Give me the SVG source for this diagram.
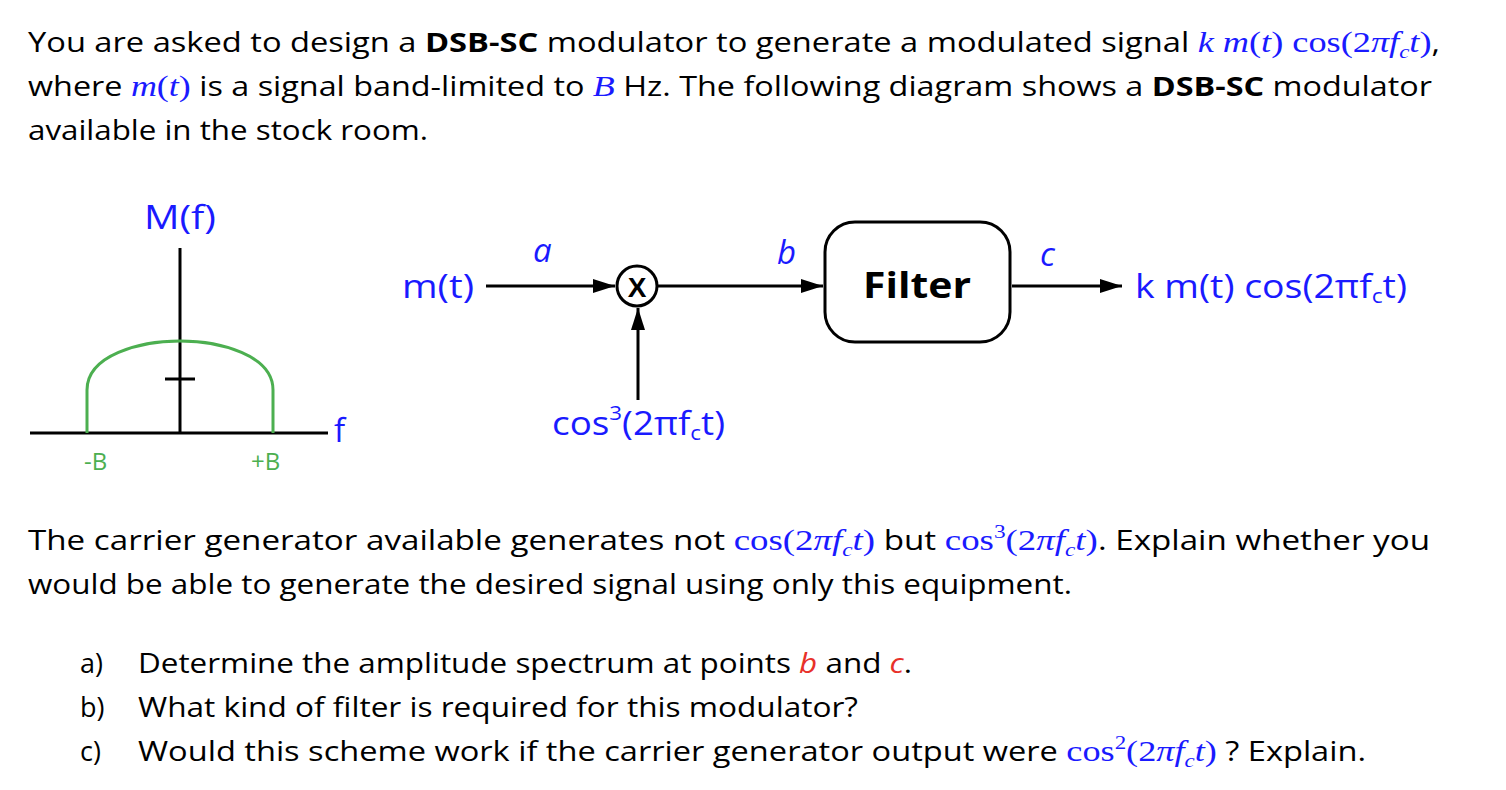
<svg xmlns="http://www.w3.org/2000/svg" width="1506" height="790" viewBox="0 0 1506 790">
<defs>
<style>
.t{font-family:"Open Sans","Liberation Sans",sans-serif;font-size:27px;fill:#000}
.m{font-family:"Liberation Serif",serif;font-size:30px;fill:#1a1aff}
.i{font-style:italic}
.s{font-size:19px}
.rd{fill:#e8312a;font-style:italic}
.lab{font-family:"Open Sans","Liberation Sans",sans-serif;font-size:33px;fill:#1a1aff}
.sl{font-size:20px}
.ln{stroke:#000;stroke-width:3;fill:none}
</style>
<marker id="a" viewBox="0 0 10 10" refX="10" refY="5" markerWidth="22" markerHeight="14" orient="auto" markerUnits="userSpaceOnUse" preserveAspectRatio="none"><path d="M0,0 L10,5 L0,10z"/></marker>
</defs>
<rect width="1506" height="790" fill="#fff"/>
<text class="t" x="28" y="52" textLength="1412" lengthAdjust="spacingAndGlyphs">You are asked to design a <tspan font-weight="bold">DSB-SC</tspan> modulator to generate a modulated signal <tspan class="m i">k m</tspan><tspan class="m">(</tspan><tspan class="m i">t</tspan><tspan class="m">) cos(2</tspan><tspan class="m i">πf</tspan><tspan class="m i s" dy="6">c</tspan><tspan class="m i" dy="-6">t</tspan><tspan class="m">)</tspan>,</text>
<text class="t" x="28" y="96" textLength="1404" lengthAdjust="spacingAndGlyphs">where <tspan class="m i">m</tspan><tspan class="m">(</tspan><tspan class="m i">t</tspan><tspan class="m">)</tspan> is a signal band-limited to <tspan class="m i">B</tspan> Hz. The following diagram shows a <tspan font-weight="bold">DSB-SC</tspan> modulator</text>
<text class="t" x="28" y="140" textLength="400" lengthAdjust="spacingAndGlyphs">available in the stock room.</text>

<g id="spectrum">
<text class="lab" x="144" y="229" textLength="72" lengthAdjust="spacingAndGlyphs">M(f)</text>
<line class="ln" x1="30" y1="433" x2="328" y2="433" stroke-width="4"/>
<line class="ln" x1="180" y1="248" x2="180" y2="433" stroke-width="4"/>
<line class="ln" x1="165" y1="379" x2="195" y2="379"/>
<path d="M87,433 L87,390 C87,355 140,341 180,341 C220,341 273,355 273,390 L273,433" fill="none" stroke="#4caf50" stroke-width="3"/>
<text class="lab" x="334" y="442">f</text>
<text x="84" y="470" font-family="Open Sans,Liberation Sans,sans-serif" font-size="24" fill="#4caf50">-B</text>
<text x="251" y="470" font-family="Open Sans,Liberation Sans,sans-serif" font-size="24" fill="#4caf50">+B</text>
</g>

<g id="input"><text class="lab" x="402" y="298" textLength="72" lengthAdjust="spacingAndGlyphs">m(t)</text></g>
<g id="mult">
<circle cx="637" cy="286" r="20" fill="#fff" stroke="#000" stroke-width="3"/>
<text x="637" y="297" text-anchor="middle" font-family="Liberation Sans,sans-serif" font-weight="bold" font-size="28">X</text>
</g>
<g id="carrier"><text class="lab" x="552" y="435" textLength="173" lengthAdjust="spacingAndGlyphs">cos<tspan class="sl" dy="-15">3</tspan><tspan dy="15">(2πf</tspan><tspan class="sl" dy="5">c</tspan><tspan dy="-5">t)</tspan></text></g>
<g id="filter">
<rect x="825" y="222" width="185" height="120" rx="30" fill="#fff" stroke="#000" stroke-width="3"/>
<text x="917" y="298" text-anchor="middle" font-family="Open Sans,Liberation Sans,sans-serif" font-weight="bold" font-size="36" textLength="108" lengthAdjust="spacingAndGlyphs">Filter</text>
</g>
<g id="output"><text class="lab" x="1135" y="298" textLength="272" lengthAdjust="spacingAndGlyphs">k m(t) cos(2πf<tspan class="sl" dy="5">c</tspan><tspan dy="-5">t)</tspan></text></g>

<g id="connectors">
<line class="ln" x1="486" y1="286" x2="615" y2="286" marker-end="url(#a)"/>
<line class="ln" x1="657" y1="286" x2="823" y2="286" marker-end="url(#a)"/>
<line class="ln" x1="1012" y1="286" x2="1122" y2="286" marker-end="url(#a)"/>
<line class="ln" x1="638" y1="400" x2="638" y2="308" marker-end="url(#a)"/>
<text class="lab rd" x="533" y="262">a</text>
<text class="lab rd" x="777" y="264">b</text>
<text class="lab rd" x="1040" y="266">c</text>
</g>

<text class="t" x="28" y="550" textLength="1402" lengthAdjust="spacingAndGlyphs">The carrier generator available generates not <tspan class="m">cos(2</tspan><tspan class="m i">πf</tspan><tspan class="m i s" dy="6">c</tspan><tspan class="m i" dy="-6">t</tspan><tspan class="m">)</tspan> but <tspan class="m">cos</tspan><tspan class="m s" dy="-12">3</tspan><tspan class="m" dy="12">(2</tspan><tspan class="m i">πf</tspan><tspan class="m i s" dy="6">c</tspan><tspan class="m i" dy="-6">t</tspan><tspan class="m">)</tspan>. Explain whether you</text>
<text class="t" x="28" y="594" textLength="1044" lengthAdjust="spacingAndGlyphs">would be able to generate the desired signal using only this equipment.</text>
<text class="t" x="80" y="673">a)</text>
<text class="t" x="138" y="673" textLength="774" lengthAdjust="spacingAndGlyphs">Determine the amplitude spectrum at points <tspan class="rd">b</tspan> and <tspan class="rd">c</tspan>.</text>
<text class="t" x="80" y="717">b)</text>
<text class="t" x="138" y="717" textLength="720" lengthAdjust="spacingAndGlyphs">What kind of filter is required for this modulator?</text>
<text class="t" x="80" y="761">c)</text>
<text class="t" x="138" y="761" textLength="1228" lengthAdjust="spacingAndGlyphs">Would this scheme work if the carrier generator output were <tspan class="m">cos</tspan><tspan class="m s" dy="-12">2</tspan><tspan class="m" dy="12">(2</tspan><tspan class="m i">πf</tspan><tspan class="m i s" dy="6">c</tspan><tspan class="m i" dy="-6">t</tspan><tspan class="m">)</tspan> ? Explain.</text>
</svg>
